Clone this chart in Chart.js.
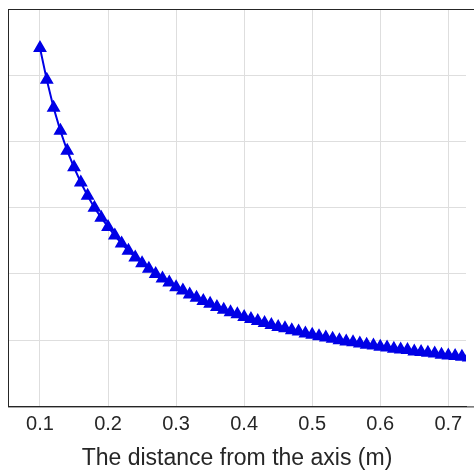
<!DOCTYPE html>
<html>
<head>
<script src="https://cdn.jsdelivr.net/npm/chart.js@4"></script>
<style>body{margin:0;background:#fff}#c{width:474px;height:474px}</style>
</head>
<body>
<canvas id="c" width="474" height="474"></canvas>
<script>
const distance = [0.10,0.11,0.12,0.13,0.14,0.15,0.16,0.17,0.18,0.19,0.20,0.21,0.22,0.23,0.24,0.25,0.26,0.27,0.28,0.29,0.30,0.31,0.32,0.33,0.34,0.35,0.36,0.37,0.38,0.39,0.40,0.41,0.42,0.43,0.44,0.45,0.46,0.47,0.48,0.49,0.50,0.51,0.52,0.53,0.54,0.55,0.56,0.57,0.58,0.59,0.60,0.61,0.62,0.63,0.64,0.65,0.66,0.67,0.68,0.69,0.70,0.71,0.72,0.73];
const values = [5.41,4.93,4.51,4.16,3.86,3.61,3.38,3.18,3.00,2.85,2.71,2.58,2.46,2.35,2.25,2.16,2.08,2.00,1.93,1.87,1.80,1.75,1.69,1.64,1.59,1.55,1.50,1.46,1.42,1.39,1.35,1.32,1.29,1.26,1.23,1.20,1.18,1.15,1.13,1.10,1.08,1.06,1.04,1.02,1.00,0.98,0.97,0.95,0.93,0.92,0.90,0.89,0.87,0.86,0.85,0.83,0.82,0.81,0.80,0.78,0.77,0.76,0.75,0.74];
const xTicks = [0.1,0.2,0.3,0.4,0.5,0.6,0.7];

const frame = {
  id: 'frame',
  afterDraw(chart) {
    const { ctx, chartArea: a } = chart;
    ctx.save();
    ctx.strokeStyle = '#262626';
    ctx.lineWidth = 1;
    ctx.strokeRect(a.left + 0.5, a.top + 0.5, a.right - a.left + 10, a.bottom - a.top);
    ctx.restore();
  }
};

new Chart(document.getElementById('c'), {
  type: 'line',
  data: {
    datasets: [{
      data: distance.map((d, i) => ({ x: d, y: values[i] })),
      borderColor: '#0000e6',
      backgroundColor: '#0000e6',
      borderWidth: 2,
      pointStyle: 'triangle',
      pointRadius: 6,
      tension: 0
    }]
  },
  options: {
    responsive: false,
    animation: false,
    layout: { padding: { left: 4, top: 9, right: -8, bottom: 0 } },
    plugins: { legend: { display: false }, tooltip: { enabled: false } },
    scales: {
      x: {
        type: 'linear',
        min: 0.053,
        max: 0.726,
        afterBuildTicks: (s) => { s.ticks = xTicks.map(v => ({ value: v })); },
        ticks: { color: '#262626', font: { family: 'Liberation Sans', size: 20 }, padding: 6, callback: v => v.toFixed(1) },
        grid: { color: '#dedede', drawTicks: false },
        border: { color: '#262626' },
        title: { display: true, text: 'The distance from the axis (m)', color: '#262626', font: { family: 'Liberation Sans', size: 23 }, padding: { top: 2, bottom: 2 } }
      },
      y: {
        min: 0,
        max: 6,
        ticks: { display: false, stepSize: 1 },
        grid: { color: '#dedede', drawTicks: false },
        border: { color: '#262626' }
      }
    }
  },
  plugins: [frame]
});
</script>
</body>
</html>
